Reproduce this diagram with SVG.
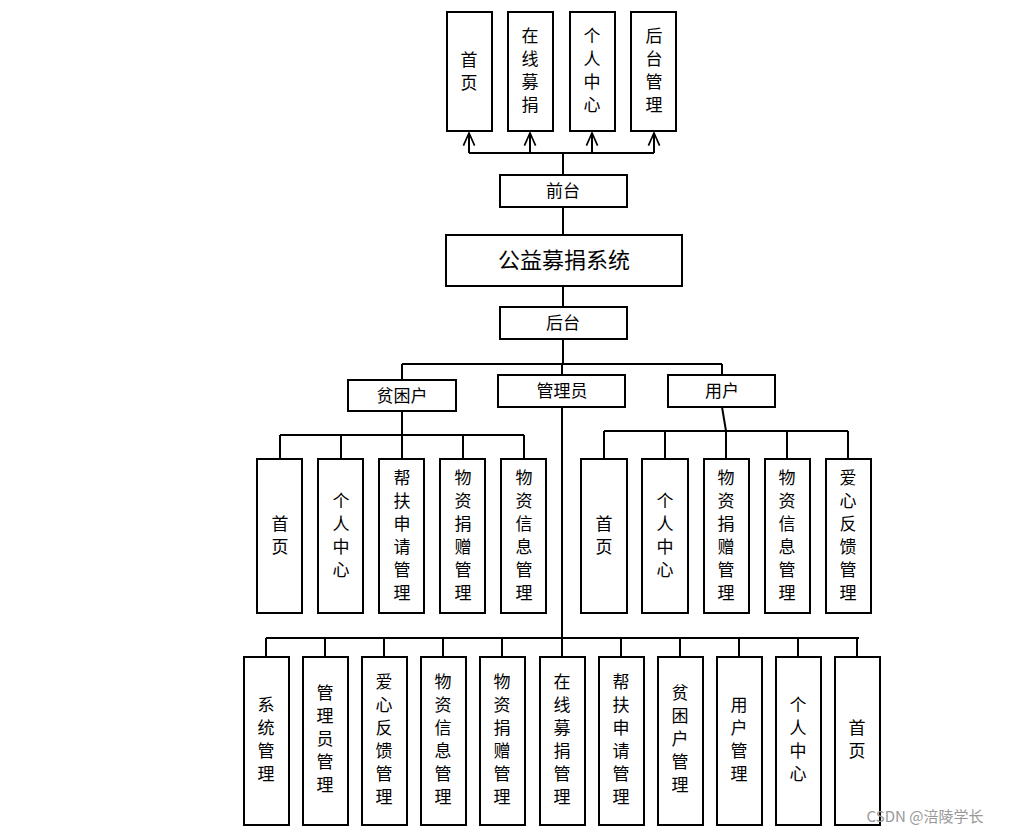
<svg xmlns="http://www.w3.org/2000/svg" width="1009" height="835" viewBox="0 0 1009 835">
<style>
rect{fill:#fff;stroke:#000;stroke-width:2}
.c path,.c line{stroke:#000;stroke-width:2;fill:none}
text{font-family:"Noto Sans CJK SC","Noto Sans",sans-serif;font-size:17px;text-anchor:middle;fill:#000}
.big{font-size:22px}
</style>
<defs><marker id="a" viewBox="0 0 10 10" refX="9" refY="5" markerWidth="7" markerHeight="7" orient="auto"><path d="M0,1 L9,5 L0,9" fill="none" stroke="#000" stroke-width="1.2"/></marker></defs>
<rect width="1009" height="835" style="fill:#fff;stroke:none"/>
<g class="c">
<line x1="563" y1="175" x2="563" y2="153"/>
<line x1="469" y1="153" x2="654" y2="153"/>
<line x1="469" y1="153" x2="469" y2="133" marker-end="url(#a)"/>
<line x1="530" y1="153" x2="530" y2="133" marker-end="url(#a)"/>
<line x1="592" y1="153" x2="592" y2="133" marker-end="url(#a)"/>
<line x1="654" y1="153" x2="654" y2="133" marker-end="url(#a)"/>
<line x1="563" y1="207" x2="563" y2="235"/>
<line x1="563" y1="286" x2="563" y2="307"/>
<line x1="563" y1="339" x2="563" y2="364"/>
<line x1="402" y1="364" x2="722" y2="364"/>
<line x1="402" y1="364" x2="402" y2="380"/>
<line x1="562" y1="364" x2="562" y2="375"/>
<line x1="722" y1="364" x2="722" y2="375"/>
<line x1="402" y1="411" x2="402" y2="435"/>
<line x1="280" y1="435" x2="524" y2="435"/>
<line x1="280" y1="435" x2="280" y2="459"/><line x1="341" y1="435" x2="341" y2="459"/><line x1="402" y1="435" x2="402" y2="459"/><line x1="463" y1="435" x2="463" y2="459"/><line x1="524" y1="435" x2="524" y2="459"/>
<line x1="722" y1="407" x2="726" y2="431"/>
<line x1="604" y1="431" x2="848" y2="431"/>
<line x1="604" y1="431" x2="604" y2="459"/><line x1="665" y1="431" x2="665" y2="459"/><line x1="726" y1="431" x2="726" y2="459"/><line x1="787" y1="431" x2="787" y2="459"/><line x1="848" y1="431" x2="848" y2="459"/>
<line x1="562" y1="407" x2="562" y2="638"/>
<line x1="266" y1="638" x2="859" y2="638"/>
<line x1="266" y1="638" x2="266" y2="657"/><line x1="325" y1="638" x2="325" y2="657"/><line x1="384" y1="638" x2="384" y2="657"/><line x1="443" y1="638" x2="443" y2="657"/><line x1="502" y1="638" x2="502" y2="657"/><line x1="562" y1="638" x2="562" y2="657"/><line x1="621" y1="638" x2="621" y2="657"/><line x1="680" y1="638" x2="680" y2="657"/><line x1="739" y1="638" x2="739" y2="657"/><line x1="798" y1="638" x2="798" y2="657"/><line x1="857" y1="638" x2="857" y2="657"/>
</g>
<g id="top1"><rect x="447" y="12" width="45" height="119"/><text x="469" y="66">首</text><text x="469" y="89">页</text></g>
<g id="top2"><rect x="508" y="12" width="45" height="119"/><text x="530" y="42">在</text><text x="530" y="65">线</text><text x="530" y="88">募</text><text x="530" y="111">捐</text></g>
<g id="top3"><rect x="570" y="12" width="45" height="119"/><text x="592" y="42">个</text><text x="592" y="65">人</text><text x="592" y="88">中</text><text x="592" y="111">心</text></g>
<g id="top4"><rect x="631" y="12" width="45" height="119"/><text x="654" y="42">后</text><text x="654" y="65">台</text><text x="654" y="88">管</text><text x="654" y="111">理</text></g>
<g id="qiantai"><rect x="500" y="175" width="127" height="32"/><text x="563" y="197">前台</text></g>
<g id="root"><rect x="446" y="235" width="236" height="51"/><text class="big" x="564" y="268">公益募捐系统</text></g>
<g id="houtai"><rect x="500" y="307" width="127" height="32"/><text x="563" y="329">后台</text></g>
<g id="pkh"><rect x="348" y="380" width="108" height="31"/><text x="402" y="402">贫困户</text></g>
<g id="gly"><rect x="498" y="375" width="127" height="32"/><text x="562" y="397">管理员</text></g>
<g id="yh"><rect x="668" y="375" width="107" height="32"/><text x="722" y="397">用户</text></g>
<g id="p1"><rect x="257" y="459" width="45" height="154"/><text x="280" y="530">首</text><text x="280" y="553">页</text></g>
<g id="p2"><rect x="318" y="459" width="45" height="154"/><text x="341" y="507">个</text><text x="341" y="530">人</text><text x="341" y="553">中</text><text x="341" y="576">心</text></g>
<g id="p3"><rect x="379" y="459" width="45" height="154"/><text x="402" y="484">帮</text><text x="402" y="507">扶</text><text x="402" y="530">申</text><text x="402" y="553">请</text><text x="402" y="576">管</text><text x="402" y="599">理</text></g>
<g id="p4"><rect x="440" y="459" width="45" height="154"/><text x="463" y="484">物</text><text x="463" y="507">资</text><text x="463" y="530">捐</text><text x="463" y="553">赠</text><text x="463" y="576">管</text><text x="463" y="599">理</text></g>
<g id="p5"><rect x="501" y="459" width="45" height="154"/><text x="524" y="484">物</text><text x="524" y="507">资</text><text x="524" y="530">信</text><text x="524" y="553">息</text><text x="524" y="576">管</text><text x="524" y="599">理</text></g>
<g id="u1"><rect x="581" y="459" width="46" height="154"/><text x="604" y="530">首</text><text x="604" y="553">页</text></g>
<g id="u2"><rect x="642" y="459" width="46" height="154"/><text x="665" y="507">个</text><text x="665" y="530">人</text><text x="665" y="553">中</text><text x="665" y="576">心</text></g>
<g id="u3"><rect x="704" y="459" width="45" height="154"/><text x="726" y="484">物</text><text x="726" y="507">资</text><text x="726" y="530">捐</text><text x="726" y="553">赠</text><text x="726" y="576">管</text><text x="726" y="599">理</text></g>
<g id="u4"><rect x="765" y="459" width="45" height="154"/><text x="787" y="484">物</text><text x="787" y="507">资</text><text x="787" y="530">信</text><text x="787" y="553">息</text><text x="787" y="576">管</text><text x="787" y="599">理</text></g>
<g id="u5"><rect x="826" y="459" width="45" height="154"/><text x="848" y="484">爱</text><text x="848" y="507">心</text><text x="848" y="530">反</text><text x="848" y="553">馈</text><text x="848" y="576">管</text><text x="848" y="599">理</text></g>
<g id="a1"><rect x="244" y="657" width="45" height="168"/><text x="266" y="711">系</text><text x="266" y="734">统</text><text x="266" y="757">管</text><text x="266" y="780">理</text></g>
<g id="a2"><rect x="303" y="657" width="45" height="168"/><text x="325" y="699">管</text><text x="325" y="722">理</text><text x="325" y="745">员</text><text x="325" y="768">管</text><text x="325" y="791">理</text></g>
<g id="a3"><rect x="362" y="657" width="45" height="168"/><text x="384" y="688">爱</text><text x="384" y="711">心</text><text x="384" y="734">反</text><text x="384" y="757">馈</text><text x="384" y="780">管</text><text x="384" y="803">理</text></g>
<g id="a4"><rect x="421" y="657" width="45" height="168"/><text x="443" y="688">物</text><text x="443" y="711">资</text><text x="443" y="734">信</text><text x="443" y="757">息</text><text x="443" y="780">管</text><text x="443" y="803">理</text></g>
<g id="a5"><rect x="480" y="657" width="45" height="168"/><text x="502" y="688">物</text><text x="502" y="711">资</text><text x="502" y="734">捐</text><text x="502" y="757">赠</text><text x="502" y="780">管</text><text x="502" y="803">理</text></g>
<g id="a6"><rect x="540" y="657" width="45" height="168"/><text x="562" y="688">在</text><text x="562" y="711">线</text><text x="562" y="734">募</text><text x="562" y="757">捐</text><text x="562" y="780">管</text><text x="562" y="803">理</text></g>
<g id="a7"><rect x="599" y="657" width="45" height="168"/><text x="621" y="688">帮</text><text x="621" y="711">扶</text><text x="621" y="734">申</text><text x="621" y="757">请</text><text x="621" y="780">管</text><text x="621" y="803">理</text></g>
<g id="a8"><rect x="658" y="657" width="45" height="168"/><text x="680" y="699">贫</text><text x="680" y="722">困</text><text x="680" y="745">户</text><text x="680" y="768">管</text><text x="680" y="791">理</text></g>
<g id="a9"><rect x="717" y="657" width="45" height="168"/><text x="739" y="711">用</text><text x="739" y="734">户</text><text x="739" y="757">管</text><text x="739" y="780">理</text></g>
<g id="a10"><rect x="776" y="657" width="45" height="168"/><text x="798" y="711">个</text><text x="798" y="734">人</text><text x="798" y="757">中</text><text x="798" y="780">心</text></g>
<g id="a11"><rect x="835" y="657" width="45" height="168"/><text x="857" y="734">首</text><text x="857" y="757">页</text></g>
<text x="925" y="822" style="font-size:15px;fill:#999">CSDN @涪陵学长</text>
</svg>
